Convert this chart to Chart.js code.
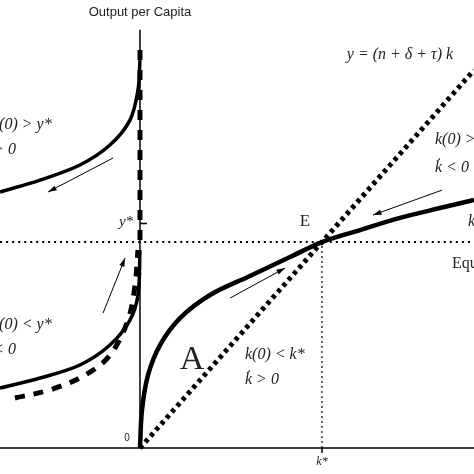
<!DOCTYPE html><html><head><script src="https://cdn.jsdelivr.net/npm/chart.js@4"></script>
<style>html,body{margin:0;background:#fff}#w{width:474px;height:474px}</style></head><body><div id="w"><canvas id="c"></canvas></div>
<script>
const mainK=[0,.011,.044,.11,.22,.385,.604,.824,1,1.209,1.429,1.648,1.835];
const mainY=[0,.184,.354,.5,.631,.743,.835,.927,1,1.058,1.117,1.165,1.204];
const lineK=[0,1.835], lineY=[0,1.835];
const upK=[-.769,-.549,-.33,-.165,-.055,-.011,0];
const upY=[1.243,1.301,1.374,1.471,1.592,1.738,1.883];
const lowK=[-.769,-.549,-.33,-.165,-.055,-.011,0];
const lowY=[.291,.34,.403,.5,.621,.743,.961];
const dashK=[-.687,-.495,-.302,-.165,-.066,-.027,-.011];
const dashY=[.243,.282,.354,.451,.621,.791,.961];
const vdashK=[0,0], vdashY=[1.01,1.98];
const kStar=1, yStar=1;
const arrows=[[-.148,1.408,-.505,1.243],[-.203,.655,-.082,.922],[.495,.728,.797,.874],[1.659,1.252,1.28,1.131]];
const XMIN=-.769,XMAX=1.835,YMIN=-.126,YMAX=2.175;
const pts=(a,b)=>a.map((v,i)=>({x:v,y:b[i]}));
const ds=(d,w,dash,col='#000')=>({data:d,borderColor:col,borderWidth:w,borderDash:dash||[],pointRadius:0,fill:false,tension:0.35,showLine:true});
const texts=[
 ['Output per Capita',140,12,'13px "Liberation Sans"','center'],
 ['y = (n + δ + τ) k',400,55,'italic 16px "Liberation Serif"','center'],
 ['y(0) > y*',-8,125,'italic 16px "Liberation Serif"','left'],
 ['ẏ > 0',-18,150,'italic 16px "Liberation Serif"','left'],
 ['k(0) > k*',435,140,'italic 16px "Liberation Serif"','left'],
 ['k̇ < 0',435,168,'italic 16px "Liberation Serif"','left'],
 ['y*',126,222,'italic 15px "Liberation Serif"','center'],
 ['E',305,222,'17px "Liberation Serif"','center'],
 ['Equilibrium',452,264,'16px "Liberation Serif"','left'],
 ['k',468,222,'italic 16px "Liberation Serif"','left'],
 ['y(0) < y*',-8,325,'italic 16px "Liberation Serif"','left'],
 ['ẏ < 0',-18,350,'italic 16px "Liberation Serif"','left'],
 ['A',192,360,'34px "Liberation Serif"','center'],
 ['k(0) < k*',245,355,'italic 16px "Liberation Serif"','left'],
 ['k̇ > 0',245,380,'italic 16px "Liberation Serif"','left'],
 ['0',127,438,'10px "Liberation Sans"','center'],
 ['k*',322,462,'italic 12px "Liberation Serif"','center']];
const deco={id:'deco',afterDatasetsDraw(ch){const c=ch.ctx,xs=ch.scales.x,ys=ch.scales.y;c.save();c.fillStyle='#000';c.strokeStyle='#000';
 // axes
 c.lineWidth=1.5;c.beginPath();c.moveTo(xs.getPixelForValue(0),ys.getPixelForValue(2.03));c.lineTo(xs.getPixelForValue(0),ys.getPixelForValue(0));c.moveTo(0,ys.getPixelForValue(0));c.lineTo(474,ys.getPixelForValue(0));
 c.moveTo(xs.getPixelForValue(0),ys.getPixelForValue(1.09));c.lineTo(xs.getPixelForValue(0)+7,ys.getPixelForValue(1.09));
 c.moveTo(xs.getPixelForValue(kStar),ys.getPixelForValue(0));c.lineTo(xs.getPixelForValue(kStar),ys.getPixelForValue(0)+5);c.stroke();
 c.lineWidth=1;arrows.forEach(a=>{const x1=xs.getPixelForValue(a[0]),y1=ys.getPixelForValue(a[1]),x2=xs.getPixelForValue(a[2]),y2=ys.getPixelForValue(a[3]);c.beginPath();c.moveTo(x1,y1);c.lineTo(x2,y2);c.stroke();const t=Math.atan2(y2-y1,x2-x1);c.beginPath();c.moveTo(x2,y2);c.lineTo(x2-9*Math.cos(t-.3),y2-9*Math.sin(t-.3));c.lineTo(x2-9*Math.cos(t+.3),y2-9*Math.sin(t+.3));c.closePath();c.fill();});
 c.fillStyle='#222';c.textBaseline='middle';texts.forEach(t=>{c.font=t[3];c.textAlign=t[4];c.fillText(t[0],t[1],t[2]);});
 c.restore();}};
new Chart(document.getElementById('c'),{type:'scatter',data:{datasets:[
 ds(pts([XMIN,XMAX],[yStar,yStar]),2,[2,4]),
 Object.assign(ds(pts([kStar,kStar],[0,yStar]),1.2,[2,3]),{tension:0}),
 Object.assign(ds(pts(lineK,lineY),5,[4,4]),{tension:0}),
 ds(pts(mainK,mainY),4.5),
 ds(pts(upK,upY),3.5),
 ds(pts(lowK,lowY),3.5),
 ds(pts(dashK,dashY),5,[10,9]),
 Object.assign(ds(pts(vdashK,vdashY),5,[10,10]),{tension:0})
]},options:{responsive:true,maintainAspectRatio:false,animation:false,layout:{padding:0},
 plugins:{legend:{display:false},tooltip:{enabled:false}},
 scales:{x:{type:'linear',min:XMIN,max:XMAX,display:false},y:{type:'linear',min:YMIN,max:YMAX,display:false}}},plugins:[deco]});
</script></body></html>
